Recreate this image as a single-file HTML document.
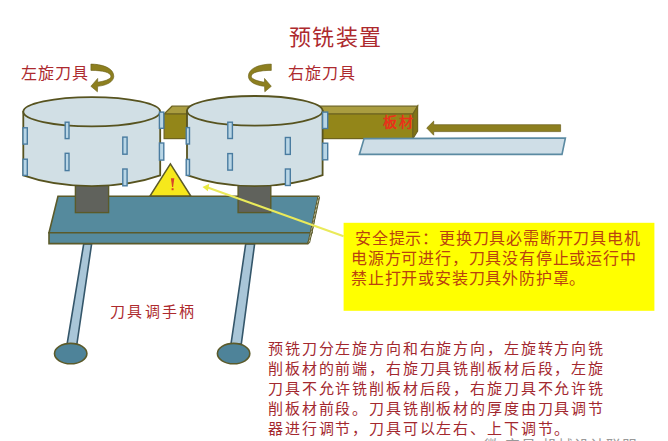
<!DOCTYPE html>
<html lang="zh-CN">
<head>
<meta charset="utf-8">
<style>
html,body{margin:0;padding:0;background:#fff;}
body{width:668px;height:441px;overflow:hidden;position:relative;font-family:"Liberation Sans",sans-serif;}
svg{position:absolute;left:0;top:0;}
.t{position:absolute;white-space:nowrap;line-height:1;}
.red{color:#ad2a2e;font-weight:500;}
.y{position:absolute;white-space:nowrap;line-height:1;font-size:16px;color:#b9420f;letter-spacing:0.8px;font-weight:500;}
.p{position:absolute;white-space:nowrap;line-height:1;left:268px;font-size:15px;color:#a3282f;letter-spacing:1.85px;font-weight:500;}
</style>
</head>
<body>
<svg width="668" height="441" viewBox="0 0 668 441">
  <!-- legs -->
  <polygon points="83.7,244 91.6,244 76.9,344 67.1,344" fill="#a9c6d8" stroke="#34566a" stroke-width="1.6"/>
  <polygon points="245.7,244 254.6,244 241.3,344 231,344" fill="#a9c6d8" stroke="#34566a" stroke-width="1.6"/>
  <!-- feet -->
  <ellipse cx="70.7" cy="353.6" rx="16.2" ry="10.2" fill="#4e8399" stroke="#5b5a2a" stroke-width="1.6"/>
  <ellipse cx="233.6" cy="353.6" rx="16.2" ry="10.2" fill="#4e8399" stroke="#5b5a2a" stroke-width="1.6"/>
  <!-- platform -->
  <polygon points="58,196.3 318.6,196.3 311.7,232.8 49,232.8" fill="#558a9d" stroke="#5b5a2a" stroke-width="1.6"/>
  <polygon points="49,232.8 311.7,232.8 307.8,243.6 49,243.6" fill="#558a9d" stroke="#5b5a2a" stroke-width="1.6"/>
  <polygon points="318,196.3 319.6,197.2 309.6,242.8 307.8,243.6" fill="#f4f2d8" stroke="#5b5a2a" stroke-width="1"/>
  <line x1="318.8" y1="198" x2="308.7" y2="243" stroke="#5b5a2a" stroke-width="0.7" stroke-dasharray="2.5,2"/>
  <!-- posts -->
  <rect x="75.4" y="180" width="33.2" height="32.6" fill="#60625c" stroke="#5b5a2a" stroke-width="1.4"/>
  <rect x="238.1" y="180" width="32.7" height="32.6" fill="#60625c" stroke="#5b5a2a" stroke-width="1.4"/>
  <!-- block -->
  <polygon points="164.1,114 172,106.2 417.6,106.2 412.9,114" fill="#aa9d40" stroke="#6e6420" stroke-width="1.2"/>
  <rect x="164.1" y="114" width="248.8" height="24.6" fill="#938619" stroke="#6e6420" stroke-width="1.2"/>
  <polygon points="412.9,114 417.6,106.2 417.6,131 412.9,138.6" fill="#807316" stroke="#6e6420" stroke-width="1.2"/>
  <!-- plate -->
  <polygon points="364.1,138.6 565.4,138 562,154.4 359.4,154.4" fill="#cfdee7" stroke="#5b8aa2" stroke-width="1.6"/>
  <!-- feed arrow -->
  <polygon points="426.7,128 433.7,121.1 433.7,124.7 560.6,124.7 560.6,131.6 433.7,131.6 433.7,135.2" fill="#8d7f1f" stroke="#6a5f1a" stroke-width="0.7"/>
  <!-- left cylinder -->
  <path d="M23.3,111.8 L23.3,175.4 C63.3,189.6 120.2,189.6 160.2,175.4 L160.2,111.8 Z" fill="#d1dfe5" stroke="#57531f" stroke-width="1.8"/>
  <ellipse cx="91.75" cy="111.8" rx="68.45" ry="14.6" fill="#d1dfe5" stroke="#57531f" stroke-width="1.8"/>
  <!-- right cylinder -->
  <path d="M187,110.8 L187,175.2 C227,189.9 282.6,189.9 322.6,175.2 L322.6,110.8 Z" fill="#d1dfe5" stroke="#57531f" stroke-width="1.8"/>
  <ellipse cx="254.8" cy="110.8" rx="67.8" ry="14.8" fill="#d1dfe5" stroke="#57531f" stroke-width="1.8"/>
  <!-- slots -->
  <g fill="#b9d6e6" stroke="#4a7ca0" stroke-width="1.4">
    <rect x="23" y="127.8" width="4.3" height="16.3"/>
    <rect x="23" y="159.2" width="4.3" height="16.2"/>
    <rect x="65.2" y="122.2" width="3.8" height="16.4"/>
    <rect x="65.2" y="153.3" width="3.8" height="17.3"/>
    <rect x="122.8" y="137.1" width="4.3" height="17.1"/>
    <rect x="122.8" y="169" width="4.3" height="16.8"/>
    <rect x="159.4" y="112.1" width="4.4" height="16.2"/>
    <rect x="159.4" y="143" width="4.4" height="17.1"/>
    <rect x="186.2" y="127.6" width="3.3" height="16.4"/>
    <rect x="186.2" y="159.4" width="3.3" height="16"/>
    <rect x="227.8" y="122.2" width="4.6" height="16.3"/>
    <rect x="227.8" y="153.6" width="4.6" height="16.5"/>
    <rect x="285.4" y="137.5" width="4.9" height="16.9"/>
    <rect x="285.4" y="169" width="4.9" height="16.5"/>
    <rect x="322.6" y="112.1" width="5.1" height="16.4"/>
    <rect x="322.6" y="143.2" width="5.1" height="16.6"/>
  </g>
  <!-- warning triangle -->
  <polygon points="170.4,163.8 190.8,196.1 150,196.1" fill="#f6e81c" stroke="#5b5a2a" stroke-width="1.5"/>
  <path d="M170.9,178.2 L174.3,178.2 L173.1,187 L172.1,187 Z" fill="#d8442a"/><rect x="171.6" y="188.2" width="2" height="2" fill="#d8442a"/>
  <!-- rotation arrows -->
  <g fill="#8d7f1f" stroke="#6a5f1a" stroke-width="0.6" id="rot">
    <path d="M90.9,64.1 C101,64.1 113.8,67.5 113.8,76.3 C113.8,82 106,85.6 97.7,86.3 L97.4,91.8 L90.9,86.3 L97.7,78.4 L97.7,82.2 C103,81.5 110.9,79.5 110.9,76.3 C110.9,72.5 103,70.4 90.9,70.4 Z"/>
  </g>
  <g fill="#8d7f1f" stroke="#6a5f1a" stroke-width="0.6" transform="translate(362.2,0) scale(-1,1)">
    <path d="M90.9,64.1 C101,64.1 113.8,67.5 113.8,76.3 C113.8,82 106,85.6 97.7,86.3 L97.4,91.8 L90.9,86.3 L97.7,78.4 L97.7,82.2 C103,81.5 110.9,79.5 110.9,76.3 C110.9,72.5 103,70.4 90.9,70.4 Z"/>
  </g>
  <!-- yellow callout box -->
  <rect x="343.6" y="222.8" width="310.8" height="88" fill="#ffff00"/>
  <!-- pointer line -->
  <line x1="207" y1="187.2" x2="343.6" y2="236.3" stroke="#eaea5a" stroke-width="2"/>
  <polygon points="202.5,186.9 209.3,183.8 207.9,191.3" fill="#eaea40"/>
</svg>

<div class="t red" style="left:289px;top:27px;font-size:22px;letter-spacing:1.3px;">预铣装置</div>
<div class="t red" style="left:21px;top:66px;font-size:16px;letter-spacing:1px;">左旋刀具</div>
<div class="t red" style="left:288px;top:66px;font-size:16px;letter-spacing:1px;">右旋刀具</div>
<div class="t" style="left:383px;top:114.5px;font-size:14px;color:#e8321a;font-weight:700;letter-spacing:2.4px;">板材</div>
<div class="t red" style="left:110px;top:303.8px;font-size:15px;letter-spacing:2.3px;">刀具调手柄</div>

<div class="y" style="left:355px;top:230.5px;">安全提示：更换刀具必需断开刀具电机</div>
<div class="y" style="left:351px;top:251px;">电源方可进行，刀具没有停止或运行中</div>
<div class="y" style="left:351px;top:271px;">禁止打开或安装刀具外防护罩。</div>

<div class="p" style="top:340.6px;">预铣刀分左旋方向和右旋方向，左旋转方向铣</div>
<div class="p" style="top:360.7px;">削板材的前端，右旋刀具铣削板材后段，左旋</div>
<div class="p" style="top:380.7px;">刀具不允许铣削板材后段，右旋刀具不允许铣</div>
<div class="p" style="top:400.7px;">削板材前段。刀具铣削板材的厚度由刀具调节</div>
<div class="p" style="top:420.7px;">器进行调节，刀具可以左右、上下调节。</div>
<div class="t" style="left:484px;top:437.5px;font-size:15px;color:#999;letter-spacing:1px;">微 宫号 机械设计联盟</div>
</body>
</html>
